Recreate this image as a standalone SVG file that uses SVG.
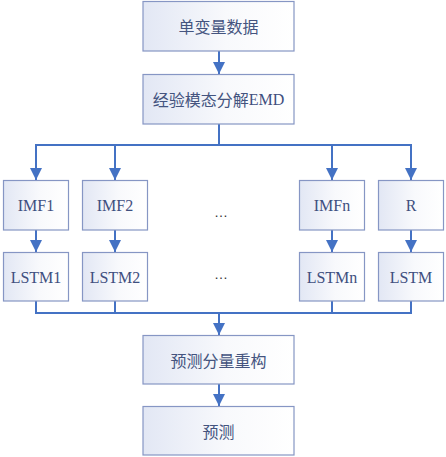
<svg xmlns="http://www.w3.org/2000/svg" width="446" height="457" viewBox="0 0 446 457">
<style>
.box{stroke:#8696c4;stroke-width:1.2;fill:url(#g)}
.zh{font-family:"Noto Sans CJK SC","Microsoft YaHei",sans-serif;font-size:16px;fill:#44547f;text-anchor:middle;dominant-baseline:central}
.en{font-family:"Liberation Serif","Times New Roman",serif;font-size:16px;fill:#3f4f7f;text-anchor:middle;dominant-baseline:central}
.ln{stroke:#4472c4;stroke-width:2;fill:none}
.dots{font-family:"Liberation Sans",sans-serif;font-size:14px;fill:#333;text-anchor:middle}
</style>
<defs>
<linearGradient id="g" x1="0" y1="0" x2="1" y2="0">
<stop offset="0" stop-color="#e2e7f4"/>
<stop offset="0.55" stop-color="#f8f9fc"/>
<stop offset="1" stop-color="#ffffff"/>
</linearGradient>
<marker id="a" viewBox="0 0 10 10" refX="10" refY="5" markerWidth="6" markerHeight="6" markerUnits="strokeWidth" orient="auto">
<path d="M0,0 L10,5 L0,10 z" fill="#4472c4"/>
</marker>
</defs>
<g id="connectors">
<line class="ln" x1="219" y1="51" x2="219" y2="74" marker-end="url(#a)"/>
<polyline class="ln" points="219,124 219,145"/>
<line class="ln" x1="35" y1="145" x2="411" y2="145"/>
<line class="ln" x1="36" y1="144" x2="36" y2="180" marker-end="url(#a)"/>
<line class="ln" x1="115" y1="144" x2="115" y2="180" marker-end="url(#a)"/>
<line class="ln" x1="332" y1="144" x2="332" y2="180" marker-end="url(#a)"/>
<line class="ln" x1="411" y1="144" x2="411" y2="180" marker-end="url(#a)"/>
<line class="ln" x1="36" y1="230" x2="36" y2="252" marker-end="url(#a)"/>
<line class="ln" x1="115" y1="230" x2="115" y2="252" marker-end="url(#a)"/>
<line class="ln" x1="332" y1="230" x2="332" y2="252" marker-end="url(#a)"/>
<line class="ln" x1="411" y1="230" x2="411" y2="252" marker-end="url(#a)"/>
<polyline class="ln" points="36,301 36,313 411,313 411,301"/>
<line class="ln" x1="115" y1="301" x2="115" y2="313"/>
<line class="ln" x1="332" y1="301" x2="332" y2="313"/>
<line class="ln" x1="219" y1="312" x2="219" y2="335" marker-end="url(#a)"/>
<line class="ln" x1="219" y1="384" x2="219" y2="406" marker-end="url(#a)"/>
</g>
<g id="n1"><rect class="box" x="143" y="1.5" width="151" height="49.5"/><text class="zh" x="218.5" y="26">单变量数据</text></g>
<g id="n2"><rect class="box" x="143" y="74.5" width="151" height="49.5"/><text class="zh" x="218.5" y="99">经验模态分解<tspan class="en">EMD</tspan></text></g>
<g id="imf1"><rect class="box" x="3.5" y="180.5" width="65" height="49.5"/><text class="en" x="36" y="205">IMF1</text></g>
<g id="imf2"><rect class="box" x="82.5" y="180.5" width="65" height="49.5"/><text class="en" x="115" y="205">IMF2</text></g>
<g id="imfn"><rect class="box" x="299.5" y="180.5" width="65" height="49.5"/><text class="en" x="332" y="205">IMFn</text></g>
<g id="r"><rect class="box" x="378.5" y="180.5" width="65" height="49.5"/><text class="en" x="411" y="205">R</text></g>
<g id="lstm1"><rect class="box" x="3.5" y="252.5" width="65" height="48.5"/><text class="en" x="36" y="277">LSTM1</text></g>
<g id="lstm2"><rect class="box" x="82.5" y="252.5" width="65" height="48.5"/><text class="en" x="115" y="277">LSTM2</text></g>
<g id="lstmn"><rect class="box" x="299.5" y="252.5" width="65" height="48.5"/><text class="en" x="332" y="277">LSTMn</text></g>
<g id="lstm"><rect class="box" x="378.5" y="252.5" width="65" height="48.5"/><text class="en" x="411" y="277">LSTM</text></g>
<text class="dots" x="221" y="217">…</text>
<text class="dots" x="221" y="279">…</text>
<g id="n3"><rect class="box" x="143" y="335.5" width="151" height="48.5"/><text class="zh" x="218.5" y="360">预测分量重构</text></g>
<g id="n4"><rect class="box" x="143" y="406.5" width="151" height="48.5"/><text class="zh" x="218.5" y="431">预测</text></g>
</svg>
